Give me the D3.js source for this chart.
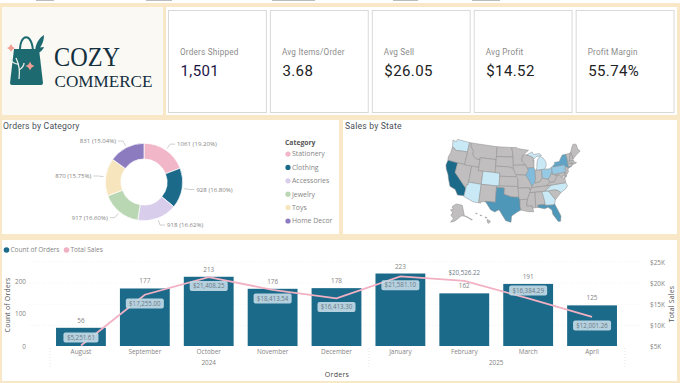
<!DOCTYPE html>
<html><head><meta charset="utf-8">
<script src="https://cdn.jsdelivr.net/npm/d3@7/dist/d3.min.js"></script>
<style>
html,body{margin:0;padding:0;background:#fff;overflow:hidden}
svg{display:block;font-family:"Open Sans",sans-serif}
.din{font-family:Roboto,sans-serif}
.serif{font-family:"Liberation Serif",serif}
</style></head><body><svg id="c" width="680" height="383"></svg>
<script>
// ---------- data ----------
const kpiLabels=["Orders Shipped","Avg Items/Order","Avg Sell","Avg Profit","Profit Margin"];
const kpiValues=["1,501","3.68","$26.05","$14.52","55.74%"];
const categories=["Stationery","Clothing","Accessories","Jewelry","Toys","Home Decor"];
const categoryOrders=[1061,928,918,917,870,831];
const categoryShare=["19.20%","16.80%","16.62%","16.60%","15.75%","15.04%"];
const categoryColors=["#f2b6c9","#1b6a8a","#d8cdea","#b9d7b2","#f6e5bd","#8d7bc0"];
const months=["August","September","October","November","December","January","February","March","April"];
const monthYears=["2024","2024","2024","2024","2024","2025","2025","2025","2025"];
const orderCounts=[56,177,213,176,178,223,162,191,125];
const totalSales=[5251.61,17255.00,21408.25,18413.54,16413.30,21581.10,20526.22,16384.29,12001.26];
const salesLabelsAbove=["August","February","March"];
const salesLabelsPlain=["February"];
const countTicks=[0,100,200];
const salesTicks=[5000,10000,15000,20000,25000];
const stateShades={CA:"#1b6a8a",TX:"#4f97b8",FL:"#4f97b8",NY:"#5fa4c6",IL:"#82bcdc",OH:"#96cae4",PA:"#96cae4",
 WA:"#c9e9f6",AZ:"#c9e9f6",CO:"#c9e9f6",MI:"#c9e9f6",GA:"#c9e9f6",NC:"#c9e9f6"};
const states={
WA:[[[-124.7,48.4],[-123,48.2],[-122.8,49],[-117,49],[-117,46],[-119,45.9],[-121,45.7],[-122.3,45.6],[-123.2,46.2],[-124,46.3]]],
OR:[[[-124,46.3],[-123.2,46.2],[-122.3,45.6],[-121,45.7],[-119,45.9],[-117,46],[-116.9,45],[-117,44.2],[-117,42],[-124.2,42],[-124.5,43],[-124,44.5]]],
CA:[[[-124.2,42],[-120,42],[-120,39],[-114.6,35],[-114.7,32.7],[-117.1,32.5],[-118.4,34],[-120.6,34.5],[-121.9,36.6],[-122.5,37.8],[-123.8,39.3],[-124.4,40.4]]],
NV:[[[-120,42],[-114,42],[-114,36.2],[-114.6,36],[-114.6,35],[-120,39]]],
ID:[[[-117,49],[-116,49],[-116,48],[-114.4,46.6],[-114.5,45.6],[-113,44.5],[-111,44.5],[-111,42],[-117,42],[-117,44.2],[-116.9,45],[-117,46]]],
MT:[[[-116,49],[-104,49],[-104,45],[-111,45],[-111,44.5],[-113,44.5],[-114.5,45.6],[-114.4,46.6],[-116,48]]],
WY:[[[-111,45],[-104,45],[-104,41],[-111,41]]],
UT:[[[-114,42],[-111,42],[-111,41],[-109,41],[-109,37],[-114,37]]],
CO:[[[-109,41],[-102,41],[-102,37],[-109,37]]],
AZ:[[[-114,37],[-109,37],[-109,31.3],[-111,31.3],[-114.8,32.5],[-114.7,32.7],[-114.6,35],[-114.6,36],[-114,36.2]]],
NM:[[[-109,37],[-103,37],[-103,32],[-106.6,32],[-106.5,31.8],[-108.2,31.8],[-108.2,31.3],[-109,31.3]]],
ND:[[[-104,49],[-97.2,49],[-96.6,46],[-104,46]]],
SD:[[[-104,46],[-96.6,46],[-96.5,42.5],[-98.5,43],[-104,43]]],
NE:[[[-104,43],[-98.5,43],[-96.5,42.5],[-95.3,40],[-102,40],[-102,41],[-104,41]]],
KS:[[[-102,40],[-95.3,40],[-94.6,39.1],[-94.6,37],[-102,37]]],
OK:[[[-103,37],[-94.6,37],[-94.4,33.7],[-97,33.8],[-100,34.6],[-100,36.5],[-103,36.5]]],
TX:[[[-103,36.5],[-100,36.5],[-100,34.6],[-97,33.8],[-94.4,33.7],[-94,33],[-94,31],[-93.7,29.8],[-95,29.2],[-97,28],[-97.2,26],[-99,26.5],[-100.5,28.5],[-101.5,29.8],[-103,29],[-104.5,29.6],[-106.5,31.8],[-106.6,32],[-103,32]]],
MN:[[[-97.2,49],[-95,49],[-94.6,48.7],[-92,48.3],[-89.6,48],[-92,46.7],[-92.8,45.5],[-92.7,44.7],[-91.2,43.5],[-96.5,43.5],[-96.6,46]]],
IA:[[[-96.5,43.5],[-91.2,43.5],[-90.2,41.8],[-91.4,40.4],[-95.3,40.6],[-96.5,42.5]]],
MO:[[[-95.3,40.6],[-91.4,40.4],[-90.2,38.8],[-89.2,37],[-89.5,36],[-90.3,36],[-90.2,36.5],[-94.6,36.5],[-94.6,39.1]]],
AR:[[[-94.6,36.5],[-90.2,36.5],[-90.3,36],[-89.7,36],[-91.2,33],[-94,33],[-94.4,33.7]]],
LA:[[[-94,33],[-91.2,33],[-91.6,31],[-89.7,31],[-89.5,30.2],[-89.2,29.1],[-91,29.2],[-93.7,29.8],[-94,31]]],
WI:[[[-92,46.7],[-90.5,46.6],[-88,45.8],[-87.6,45.1],[-88,44.5],[-87.5,44.8],[-87.8,42.5],[-90.6,42.5],[-91.2,43.5],[-92.7,44.7],[-92.8,45.5]]],
IL:[[[-90.6,42.5],[-87.8,42.5],[-87.5,41.7],[-87.5,39.3],[-88,37.8],[-89.2,37],[-90.2,38.8],[-91.4,40.4],[-90.2,41.8]]],
IN:[[[-87.5,41.7],[-84.8,41.7],[-84.8,39.1],[-86,38],[-88,37.8],[-87.5,39.3]]],
MI:[[[-87,41.75],[-84.8,41.7],[-83.4,41.7],[-82.5,43],[-82.6,44],[-83.4,45.1],[-84.8,45.8],[-86,44.8],[-86.4,43.6],[-86.6,42.5]],[[-90.5,46.6],[-88,47.4],[-87.5,46.5],[-85,46.7],[-84,46],[-86.5,45.8],[-87.6,45.1],[-88,45.8]]],
OH:[[[-84.8,41.7],[-83.4,41.7],[-81.5,41.6],[-80.5,42],[-80.5,40.6],[-81.7,39.2],[-82.6,38.5],[-84.8,39.1]]],
KY:[[[-89.5,36.5],[-89.2,37],[-88,37.8],[-86,38],[-84.8,39.1],[-82.6,38.5],[-82,37.5],[-83.7,36.6]]],
TN:[[[-90.2,35],[-84.3,35],[-81.7,36.6],[-83.7,36.6],[-89.5,36.5]]],
MS:[[[-91.2,33],[-90.2,35],[-88.2,35],[-88.4,30.3],[-89.5,30.2],[-89.7,31],[-91.6,31]]],
AL:[[[-88.2,35],[-85.6,35],[-85,32.3],[-85,31],[-87.6,31],[-87.5,30.3],[-88.4,30.3]]],
GA:[[[-85.6,35],[-83.1,35],[-81,32],[-81.5,30.7],[-82.2,30.5],[-84.9,30.7],[-85,32.3]]],
FL:[[[-87.6,31],[-85,31],[-84.9,30.7],[-82.2,30.5],[-81.5,30.7],[-80.5,28.2],[-80,26.8],[-80.4,25.2],[-81.2,25.2],[-82.7,27.7],[-82.8,29],[-84,30],[-85.3,29.7],[-87.5,30.3]]],
SC:[[[-83.1,35],[-81,35.1],[-79.7,34.8],[-78.5,33.9],[-81,32]]],
NC:[[[-84.3,35],[-83.1,35],[-81,35.1],[-79.7,34.8],[-78.5,33.9],[-76.5,34.7],[-75.6,35.5],[-76,36.55],[-81.7,36.6]]],
VA:[[[-83.7,36.6],[-76,36.55],[-76,37.9],[-77,38.3],[-77.8,39.2],[-78.4,39.4],[-79.5,38.5],[-80.3,37.5],[-82,37.5]]],
WV:[[[-82.6,38.5],[-81.7,39.2],[-80.5,40.6],[-80.5,39.7],[-79.5,39.7],[-79.5,39.2],[-78.4,39.4],[-79.5,38.5],[-80.3,37.5],[-82,37.5]]],
MD:[[[-79.5,39.7],[-75.8,39.7],[-75.1,38.4],[-76,38],[-76.4,39],[-77,38.3],[-77.8,39.2],[-78.4,39.4],[-79.5,39.2]]],
DE:[[[-75.8,39.7],[-75.4,39.8],[-75.1,38.5],[-75.7,38.5]]],
PA:[[[-80.5,42],[-79.8,42.3],[-79.8,42],[-75.3,42],[-74.7,41.3],[-75.2,40.6],[-74.8,40.1],[-75.4,39.8],[-80.5,39.7]]],
NY:[[[-79.8,42],[-79.8,42.3],[-78.9,42.9],[-79,43.3],[-76.8,43.3],[-76.2,44],[-75,45],[-73.4,45],[-73.3,43.5],[-73.5,42],[-73.6,41],[-72,41.1],[-73.9,40.6],[-74,41],[-74.7,41.3],[-75.3,42]]],
NJ:[[[-74.7,41.3],[-74,41],[-74,39.7],[-74.9,38.9],[-75.5,39.5],[-74.8,40.1],[-75.2,40.6]]],
CT:[[[-73.5,42.05],[-71.8,42],[-71.8,41.3],[-73.6,41]]],
RI:[[[-71.8,42],[-71.4,42],[-71.2,41.5],[-71.8,41.3]]],
MA:[[[-73.5,42.75],[-71.3,42.7],[-70.7,42.6],[-71,42.2],[-70,41.8],[-70,41.6],[-71.2,41.5],[-71.4,42],[-73.5,42.05]]],
VT:[[[-73.4,45],[-71.5,45],[-72.4,43],[-72.5,42.73],[-73.5,42.75],[-73.3,43.5]]],
NH:[[[-71.5,45],[-71.1,45.3],[-70.8,43.1],[-71.3,42.7],[-72.5,42.73],[-72.4,43]]],
ME:[[[-71.1,45.3],[-70,46.7],[-69.2,47.4],[-68.3,47.3],[-67.8,47],[-67.8,45.7],[-67,44.8],[-69,44],[-70.8,43.1]]],
AK:[[[-168,65.5],[-162,66.5],[-166,68.3],[-156.5,71.3],[-141,69.6],[-141,60.3],[-137,59],[-133,56.5],[-130,55],[-131.5,55],[-136,58],[-140,59.7],[-146,60.5],[-150,59.5],[-153,58],[-158,56],[-164,54.7],[-160,58.5],[-165,60.5],[-163,63.5]]],
HI:[[[-156,20.2],[-155.1,19.8],[-155,19.4],[-155.7,19],[-156,19.7]],[[-156.7,21],[-156,20.8],[-156.4,20.6]],[[-158.3,21.6],[-157.7,21.4],[-158.1,21.3]],[[-159.8,22.1],[-159.3,22.2],[-159.4,21.9]]]
};

// ---------- scaffold ----------
const svg=d3.select("#c");
const cream="#f8e8c8",muted="#858585",dark="#3a3f44";
svg.append("rect").attr("width",680).attr("height",383).attr("fill",cream);
svg.append("rect").attr("width",680).attr("height",3).attr("fill","#fff");
[[36,54],[146,172],[272,315],[393,418],[472,500]].forEach(([a,b])=>svg.append("line").attr("x1",a).attr("x2",b).attr("y1",0.5).attr("y2",0.5).attr("stroke","#bbb"));
const panel=(x,y,w,h,f)=>svg.append("rect").attr("x",x).attr("y",y).attr("width",w).attr("height",h).attr("fill",f||"#fff");
panel(2,7,161,108,"#fbf9f4");panel(166,7,511,108);
panel(2,120,337,114);panel(343,120,334,114);panel(2,240,675,141);
const title=(x,y,t)=>svg.append("text").attr("class","din").attr("x",x).attr("y",y).attr("font-size",8.6).attr("letter-spacing",.2).attr("fill","#4a4f57").text(t);

// ---------- logo ----------
const logo=svg.append("g"),teal="#1d6b70",spark="#ef9f93";
logo.append("path").attr("d","M14,49 L39,49 L43,83 Q43,85 41,85 L12,85 Q10,85 10,83 Z").attr("fill",teal);
logo.append("path").attr("d","M20,53 C19,32 33,32 33,53").attr("fill","none").attr("stroke",teal).attr("stroke-width",2);
logo.append("path").attr("d","M35,53 C35,44 39,38 44,35 C44,43 40,49 35,53Z M35,50 C37,48 41,47 44,47 C42,52 38,53 35,54Z").attr("fill",teal);
logo.append("path").attr("d","M19,79 C20,72 19,64 16,58 M19,70 C22,68 24,66 24,63 M18,64 C15,64 12,62 10,59").attr("fill","none").attr("stroke","#e8efe9").attr("stroke-width",1.3);
const sparkle=(x,y,r)=>logo.append("path").attr("d",`M${x},${y-r} Q${x+1},${y-1} ${x+r},${y} Q${x+1},${y+1} ${x},${y+r} Q${x-1},${y+1} ${x-r},${y} Q${x-1},${y-1} ${x},${y-r}Z`).attr("fill",spark);
sparkle(11,48,4);sparkle(30,66,4.5);
logo.append("text").attr("class","serif").attr("x",54).attr("y",65.5).attr("font-size",27).attr("textLength",66).attr("lengthAdjust","spacingAndGlyphs").attr("fill","#13303f").text("COZY");
logo.append("text").attr("class","serif").attr("x",54.5).attr("y",87).attr("font-size",17.5).attr("textLength",98).attr("lengthAdjust","spacingAndGlyphs").attr("fill","#13303f").text("COMMERCE");

// ---------- KPI cards ----------
const cardScale=d3.scaleBand().domain(kpiLabels).range([168,674.5]).paddingInner(.03);
kpiLabels.forEach((l,i)=>{
 const x=cardScale(l);
 svg.append("rect").attr("x",x+.5).attr("y",10.5).attr("width",cardScale.bandwidth()-1).attr("height",102).attr("fill","#fff").attr("stroke","#d9d9d9");
 svg.append("text").attr("x",x+12).attr("y",55).attr("class","din").attr("font-size",8.2).attr("letter-spacing",.2).attr("fill","#8c8c8c").text(l);
 svg.append("text").attr("x",x+12.5).attr("y",76).attr("class","din").attr("font-size",15).attr("letter-spacing",.4).attr("fill",i==0?"#1a1446":"#222").text(kpiValues[i]);
});

// ---------- donut ----------
title(3,129,"Orders by Category");
const dc=svg.append("g").attr("transform","translate(144,182)");
const R=38.7,pie=d3.pie().sort(null),arc=d3.arc().innerRadius(23).outerRadius(R);
const slices=pie(categoryOrders);
dc.selectAll("path.s").data(slices).join("path").attr("class","s").attr("d",arc).attr("fill",(d,i)=>categoryColors[i]).attr("stroke","#fff").attr("stroke-width",.7);
slices.forEach((s,i)=>{
 const a=(s.startAngle+s.endAngle)/2,sx=Math.sin(a),sy=-Math.cos(a);
 const ex=46*sx,ey=46*sy,right=sx>0,tx=ex+(right?7:-7);
 dc.append("path").attr("d",`M${(R+2)*sx},${(R+2)*sy}L${ex},${ey}L${tx-(right?2:-2)},${ey}`).attr("fill","none").attr("stroke","#bbb").attr("stroke-width",.7);
 dc.append("text").attr("x",tx).attr("y",ey+2.3).attr("text-anchor",right?"start":"end").attr("font-size",6.1).attr("fill",muted).text(`${categoryOrders[i]} (${categoryShare[i]})`);
});
svg.append("text").attr("x",285).attr("y",145).attr("font-size",6.8).attr("font-weight",700).attr("fill","#555").text("Category");
const legendY=d3.scalePoint().domain(categories).range([154,221]);
categories.forEach((c,i)=>{
 svg.append("circle").attr("cx",288).attr("cy",legendY(c)).attr("r",2.6).attr("fill",categoryColors[i]);
 svg.append("text").attr("x",292).attr("y",legendY(c)+2.4).attr("font-size",6.9).attr("fill",muted).text(c);
});

// ---------- map ----------
title(345,129,"Sales by State");
const proj=d3.geoAlbersUsa().scale(186).translate([513,181]);
const ring=d3.line();
const mapG=svg.append("g");
Object.entries(states).forEach(([code,polys])=>{
 const d=polys.map(r=>{const pts=r.map(proj).filter(Boolean);return pts.length>2?ring(pts)+"Z":""}).join("");
 mapG.append("path").attr("d",d).attr("fill",stateShades[code]||"#c0bebe").attr("stroke","#8c8c8c").attr("stroke-width",.5).attr("stroke-linejoin","round");
});

// ---------- combo chart ----------
const x=d3.scaleBand().domain(months).range([49,624]).paddingInner(.22).paddingOuter(.11);
const yC=d3.scaleLinear().domain([0,200]).range([346,281]);
const yS=d3.scaleLinear().domain([5000,25000]).range([346.5,262]);
const cx=m=>x(m)+x.bandwidth()/2;
const g=svg.append("g");
salesTicks.slice(1).forEach(t=>g.append("line").attr("x1",30).attr("x2",640).attr("y1",yS(t)).attr("y2",yS(t)).attr("stroke","#eee").attr("stroke-width",.7).attr("stroke-dasharray","1 2"));
[50,369,625].forEach(v=>g.append("line").attr("x1",v).attr("x2",v).attr("y1",348).attr("y2",368).attr("stroke","#e4e4e4").attr("stroke-dasharray","1 2"));
const styleAxis=a=>{a.select(".domain").remove();a.selectAll("text").attr("font-size",6.4).attr("fill",muted).style("font-family","'Open Sans',sans-serif");};
const axL=svg.append("g").attr("transform","translate(26,0)").call(d3.axisLeft(yC).tickValues(countTicks).tickSize(0).tickPadding(0));
styleAxis(axL);
const axR=svg.append("g").attr("transform","translate(650,0)").call(d3.axisRight(yS).tickValues(salesTicks).tickSize(0).tickPadding(0).tickFormat(d=>"$"+d/1000+"K"));
styleAxis(axR);
const axB=svg.append("g").attr("transform","translate(0,349)").call(d3.axisBottom(x).tickSize(0).tickPadding(0));
styleAxis(axB);

g.selectAll("rect.b").data(months).join("rect").attr("class","b").attr("x",m=>x(m)).attr("width",x.bandwidth())
 .attr("y",(m,i)=>yC(orderCounts[i])).attr("height",(m,i)=>yC(0)-yC(orderCounts[i])).attr("fill","#1b6a8a");
months.forEach((m,i)=>svg.append("text").attr("x",cx(m)).attr("y",yC(orderCounts[i])-5).attr("text-anchor","middle").attr("font-size",6.4).attr("fill",muted).text(orderCounts[i]));
svg.append("path").attr("d",d3.line().x((v,i)=>cx(months[i])).y(v=>yS(v))(totalSales)).attr("fill","none").attr("stroke","#f2b0c3").attr("stroke-width",1.8);
months.forEach((m,i)=>{
 const px=cx(m),py=yS(totalSales[i])+(salesLabelsAbove.includes(m)?-8:8.7);
 const t="$"+d3.format(",.2f")(totalSales[i]);
 if(!salesLabelsPlain.includes(m)){
  const w=t.length>9?38:35;
  svg.append("rect").attr("x",px-w/2).attr("y",py-5).attr("width",w).attr("height",10).attr("rx",2).attr("fill","#c2dae6").attr("fill-opacity",.92);
 }
 svg.append("text").attr("x",px).attr("y",py+2.2).attr("text-anchor","middle").attr("font-size",6.2).attr("fill","#6c7a84").text(t);
});
[...new Set(monthYears)].forEach(yr=>{
 const ms=months.filter((m,i)=>monthYears[i]===yr);
 svg.append("text").attr("x",d3.mean(ms,cx)).attr("y",365).attr("text-anchor","middle").attr("font-size",6.4).attr("fill",muted).text(yr);
});
svg.append("text").attr("x",337).attr("y",377).attr("text-anchor","middle").attr("font-size",7).attr("fill","#444").attr("letter-spacing",.3).text("Orders");
const rot=(x0,y0,t)=>svg.append("text").attr("transform",`translate(${x0},${y0}) rotate(-90)`).attr("text-anchor","middle").attr("font-size",6.9).attr("fill","#555").attr("letter-spacing",.2).text(t);
rot(10,305,"Count of Orders");rot(674,304,"Total Sales");
svg.append("circle").attr("cx",6.5).attr("cy",250).attr("r",2.8).attr("fill","#1b6a8a");
svg.append("text").attr("x",10.5).attr("y",252.4).attr("font-size",6.5).attr("fill",muted).text("Count of Orders");
svg.append("circle").attr("cx",66.5).attr("cy",250).attr("r",2.8).attr("fill","#f2b0c3");
svg.append("text").attr("x",70.5).attr("y",252.4).attr("font-size",6.5).attr("fill",muted).text("Total Sales");
</script></body></html>
